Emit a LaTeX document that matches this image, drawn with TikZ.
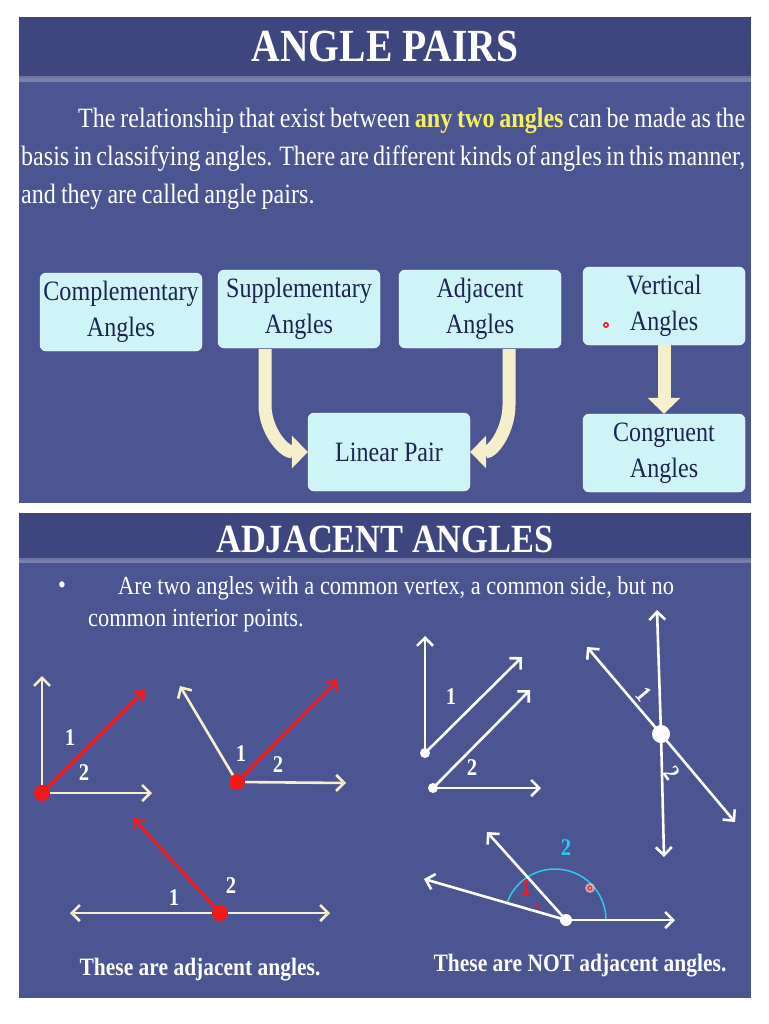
\documentclass[tikz,border=0pt]{standalone}
\usepackage{fontspec}
\setmainfont[FakeStretch=0.86]{Liberation Serif}
\usetikzlibrary{arrows.meta}
\definecolor{panel}{HTML}{4B5591}
\definecolor{bar}{HTML}{3E4680}
\definecolor{boxc}{HTML}{CFF4F8}
\definecolor{boxt}{HTML}{1C2450}
\definecolor{cream}{HTML}{F6EFCC}
\definecolor{ylw}{HTML}{F4F060}
\definecolor{cyanl}{HTML}{2EC8F0}
\definecolor{redd}{HTML}{F01818}
\tikzset{
 box/.style={draw=white,fill=boxc,rounded corners=6pt,text=boxt,align=center,font=\fontsize{28}{36}\selectfont,minimum width=162pt,minimum height=78pt,inner sep=2pt},
 bigarrow/.style={draw=cream,line width=13pt,-{Triangle[length=16pt,width=32pt]}},
 ray/.style={draw=white,line width=2.6pt,-{Straight Barb[length=8pt,width=16pt,line width=2.6pt]}},
 rayc/.style={draw=cream,line width=2.6pt,-{Straight Barb[length=8pt,width=16pt,line width=2.6pt]}},
 redray/.style={draw=redd,line width=3pt,-{Straight Barb[length=8pt,width=14pt,line width=2.6pt]}},
 lbl/.style={text=white,font=\bfseries\fontsize{24}{26}\selectfont},
 wtext/.style={text=white,font=\fontsize{26}{30}\selectfont,inner sep=0pt},
}
\begin{document}
\begin{tikzpicture}[x=1pt,y=-1pt]
\useasboundingbox (0,0) rectangle (768,1024);
\fill[white] (0,0) rectangle (768,1024);
% panel 1
\fill[panel] (19,17) rectangle (751,503);
\fill[bar] (19,17) rectangle (751,78);
\fill[white,opacity=0.25] (19,76) rectangle (751,82);
\node[text=white,font=\bfseries\fontsize{46}{50}\selectfont] (t1) at (385,46) {ANGLE PAIRS};
\node[text=white,font=\fontsize{28}{38}\selectfont,text width=724pt,align=justify,anchor=north west,inner sep=0pt] (par) at (21,108)
 {\spaceskip=0.18em plus 0.3em minus 0.08em\hspace*{57pt}The relationship that exist between \textcolor{ylw}{\bfseries any two angles} can be made as the basis in classifying angles. There are different kinds of angles in this manner, and they are called angle pairs.};
\node[box] (comp) at (121,312) {Complementary\\Angles};
\node[box] (supp) at (299,309) {Supplementary\\Angles};
\node[box] (adj) at (480,309) {Adjacent\\Angles};
\node[box] (vert) at (664,306) {Vertical\\Angles};
\node[box] (lin) at (389,452) {Linear Pair};
\node[box] (cong) at (664,453) {Congruent\\Angles};
\fill[redd] (606,325) circle (3pt); \fill[white] (606,325) circle (1.3pt);
\draw[bigarrow] (265,349) -- (265,405) to[out=-90,in=180] (lin.west);
\draw[bigarrow] (509,349) -- (509,405) to[out=-90,in=0] (lin.east);
\draw[bigarrow] (vert.south) -- (cong.north);
% panel 2
\fill[panel] (19,513) rectangle (751,998);
\fill[bar] (19,513) rectangle (751,560);
\fill[white,opacity=0.25] (19,558) rectangle (751,563);
\node[text=white,font=\bfseries\fontsize{40}{44}\selectfont] (t2) at (385,539) {ADJACENT ANGLES};
\node[wtext,anchor=west] (bul) at (58,588) {•};
\node[wtext,anchor=west] (l1) at (118,588) {Are two angles with a common vertex, a common side, but no};
\node[wtext,anchor=west] (l2) at (88,621) {common interior points.};
% fig A
\coordinate (a) at (42,793);
\draw[rayc] (a) -- (42,676);
\draw[rayc] (a) -- (152,793);
\draw[redray] (a) -- (145,690);
\fill[redd] (a) circle (8pt);
\node[lbl] (a1) at (70,738) {1};
\node[lbl] (a2) at (84,773) {2};
% fig B
\coordinate (b) at (237,782);
\draw[rayc] (b) -- (180,686);
\draw[rayc] (b) -- (346,783);
\draw[redray] (b) -- (338,680);
\fill[redd] (b) circle (8pt);
\node[lbl] (b1) at (241,754) {1};
\node[lbl] (b2) at (278,765) {2};
% fig C
\coordinate (c) at (220,913);
\draw[rayc] (c) -- (70,913);
\draw[rayc] (c) -- (330,913);
\draw[redray] (c) -- (133,818);
\fill[redd] (c) circle (8pt);
\node[lbl] (c1) at (174,898) {1};
\node[lbl] (c2) at (231,886) {2};
% fig D
\coordinate (d1) at (425,753);
\coordinate (d2) at (433,788);
\draw[ray] (d1) -- (425,636);
\draw[ray] (d1) -- (522,657);
\draw[ray] (d2) -- (530,690);
\draw[ray] (d2) -- (541,788);
\fill[white] (d1) circle (5pt); \fill[white] (d2) circle (5pt);
\node[lbl] (d1l) at (451,697) {1};
\node[lbl] (d2l) at (472,768) {2};
% fig E
\coordinate (e) at (661,734);
\draw[ray] (e) -- (657,610);
\draw[ray] (e) -- (664,857);
\draw[ray] (e) -- (587,647);
\draw[ray] (e) -- (735,822);
\fill[white] (e) circle (9pt);
\node[lbl,rotate=-50] (e1) at (644,694) {1};
\node[lbl,rotate=-55] (e2) at (672,773) {2};
% fig F
\coordinate (f) at (566,920);
\draw[cyanl,line width=1.5pt] (606,920) arc[start angle=0,end angle=-162,radius=51];
\draw[ray] (f) -- (424,879);
\draw[ray] (f) -- (487,832);
\draw[ray] (f) -- (675,920);
\fill[white] (f) circle (6pt);
\draw[redd,line width=1.5pt] (535,903) arc[start angle=-200,end angle=-235,radius=12];
\node[text=redd,font=\bfseries\fontsize{24}{26}\selectfont] (f1) at (526,888) {1};
\node[text=cyanl,font=\bfseries\fontsize{24}{26}\selectfont] (f2) at (566,848) {2};
\fill[pink,opacity=0.7] (590,888) circle (5pt); \draw[redd,line width=0.8pt] (590,888) circle (2pt);
% captions
\node[text=white,font=\bfseries\fontsize{25}{26}\selectfont] (cap1) at (200,970) {These are adjacent angles.};
\node[text=white,font=\bfseries\fontsize{25}{26}\selectfont] (cap2) at (580,966) {These are NOT adjacent angles.};
\end{tikzpicture}
\end{document}
